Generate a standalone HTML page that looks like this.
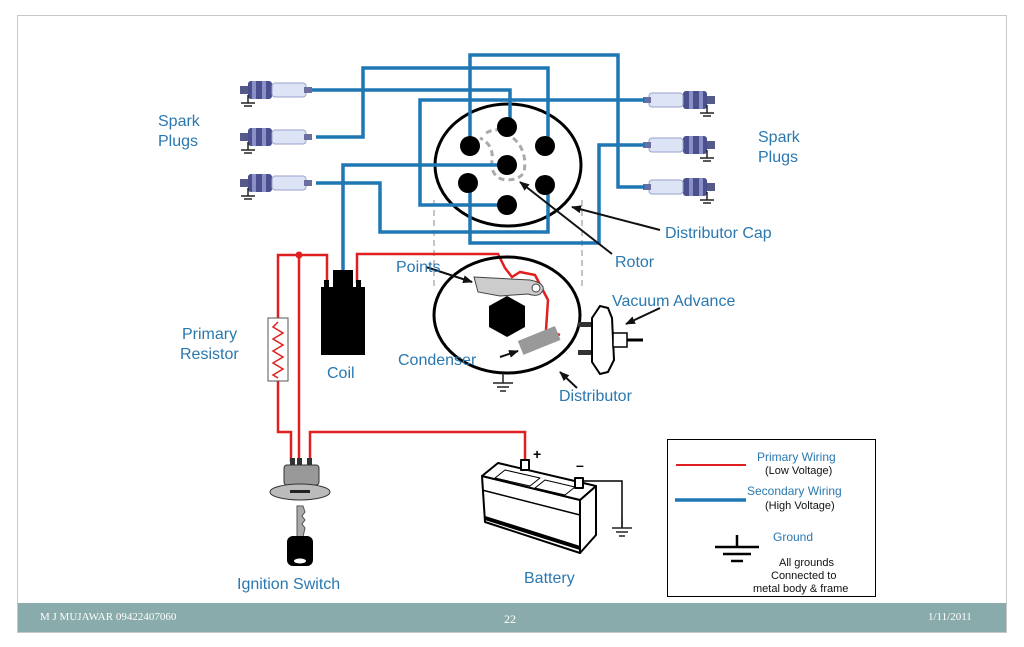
<!DOCTYPE html>
<html><head><meta charset="utf-8"><style>
html,body{margin:0;padding:0;background:#fff;}
svg{display:block;}
text{font-family:"Liberation Sans",sans-serif;}
</style></head><body>
<svg width="1024" height="647" viewBox="0 0 1024 647" xmlns="http://www.w3.org/2000/svg">
<defs>
<g id="plug">
 <rect x="0" y="-4" width="10" height="8" fill="#555a88"/>
 <rect x="8" y="-9" width="24" height="18" rx="3" fill="#4a4f8e"/>
 <rect x="12" y="-9" width="4" height="18" fill="#8a8fc8"/>
 <rect x="22" y="-9" width="4" height="18" fill="#8a8fc8"/>
 <rect x="32" y="-7" width="34" height="14" rx="3" fill="#dde4f5" stroke="#9aa2cc" stroke-width="1"/>
 <rect x="64" y="-3" width="8" height="6" fill="#6a6fa0"/>
 <line x1="8" y1="5" x2="8" y2="13" stroke="#222" stroke-width="1.5"/>
 <line x1="1" y1="13" x2="15" y2="13" stroke="#222" stroke-width="1.5"/>
 <line x1="4" y1="16" x2="12" y2="16" stroke="#222" stroke-width="1.5"/>
</g>
<g id="gnd">
 <line x1="0" y1="0" x2="0" y2="10" stroke="#222" stroke-width="1.5"/>
 <line x1="-10" y1="10" x2="10" y2="10" stroke="#222" stroke-width="1.5"/>
 <line x1="-6" y1="14" x2="6" y2="14" stroke="#222" stroke-width="1.5"/>
 <line x1="-3" y1="18" x2="3" y2="18" stroke="#222" stroke-width="1.5"/>
</g>
<marker id="ar" markerWidth="10" markerHeight="8" refX="9" refY="4" orient="auto" markerUnits="userSpaceOnUse"><path d="M0,0 L10,4 L0,8 Z" fill="#111"/></marker>
</defs>

<rect x="17.5" y="15.5" width="989" height="617" fill="#fff" stroke="#c8c8c8"/>
<rect x="18" y="603" width="988" height="29" fill="#8aabab"/>
<text x="40" y="620" font-size="11" fill="#fff" style="font-family:'Liberation Serif',serif">M J MUJAWAR 09422407060</text>
<text x="504" y="623" font-size="12" fill="#fff" style="font-family:'Liberation Serif',serif">22</text>
<text x="928" y="620" font-size="11" fill="#fff" style="font-family:'Liberation Serif',serif">1/11/2011</text>

<use href="#plug" x="240" y="90"/>
<use href="#plug" x="240" y="137"/>
<use href="#plug" x="240" y="183"/>
<use href="#plug" x="-715" y="100" transform="scale(-1,1)"/>
<use href="#plug" x="-715" y="145" transform="scale(-1,1)"/>
<use href="#plug" x="-715" y="187" transform="scale(-1,1)"/>

<line x1="434" y1="200" x2="434" y2="290" stroke="#888" stroke-dasharray="6,4"/>
<line x1="582" y1="200" x2="582" y2="290" stroke="#888" stroke-dasharray="6,4"/>

<ellipse cx="508" cy="165" rx="73" ry="61" fill="#fff" stroke="#000" stroke-width="3"/>
<path d="M486,133 Q500,125 512,137 Q528,150 524,172 Q520,180 506,180 Q490,178 492,160 Q494,145 480,138" fill="none" stroke="#aaa" stroke-width="3" stroke-dasharray="6,4"/>

<g fill="none" stroke="#1f77b4" stroke-width="3.5">
<polyline points="312,90 510,90 510,125"/>
<polyline points="316,137 363,137 363,68 548,68 548,146"/>
<polyline points="316,183 380,183 380,232 548,232 548,185"/>
<polyline points="507,165 343,165 343,272"/>
<polyline points="645,100 420,100 420,205 507,205"/>
<polyline points="470,146 470,55 618,55 618,187 645,187"/>
<polyline points="645,145 599,145 599,243 470,243 470,183"/>
</g>
<g fill="#000">
<circle cx="507" cy="127" r="10"/><circle cx="470" cy="146" r="10"/><circle cx="545" cy="146" r="10"/>
<circle cx="507" cy="165" r="10"/><circle cx="468" cy="183" r="10"/><circle cx="545" cy="185" r="10"/>
<circle cx="507" cy="205" r="10"/>
</g>
<line x1="660" y1="230" x2="572" y2="207" stroke="#111" stroke-width="2" marker-end="url(#ar)"/>
<line x1="612" y1="254" x2="520" y2="182" stroke="#111" stroke-width="2" marker-end="url(#ar)"/>

<g fill="none" stroke="#e02020" stroke-width="2.5">
<polyline points="327,283 327,255 278,255 278,318"/>
<polyline points="278,381 278,432 291,432 291,462"/>
<line x1="299" y1="255" x2="299" y2="462"/>
<polyline points="310,462 310,432 525,432 525,462"/>
<polyline points="357,283 357,254 498,254 505,268 512,277 520,272 535,275 548,300 546,330 560,335"/>
</g>
<circle cx="299" cy="255" r="3.5" fill="#e02020"/>
<rect x="268" y="318" width="20" height="63" fill="#fff" stroke="#555"/>
<polyline points="278,322 273,327 283,333 273,339 283,345 273,351 283,357 273,363 283,369 273,375 278,378" fill="none" stroke="#e02020" stroke-width="1.5"/>

<rect x="333" y="270" width="20" height="20" fill="#000"/>
<rect x="321" y="287" width="44" height="68" fill="#000"/>
<rect x="324" y="280" width="5" height="8" fill="#000"/><rect x="356" y="280" width="5" height="8" fill="#000"/>

<ellipse cx="507" cy="315" rx="73" ry="58" fill="none" stroke="#000" stroke-width="3"/>
<polygon points="507,296 525,306 525,327 507,337 489,327 489,306" fill="#000"/>
<path d="M474,277 L530,280 Q545,283 543,290 Q540,298 528,294 L500,296 L478,292 Z" fill="#ccc" stroke="#444"/>
<circle cx="536" cy="288" r="4" fill="#fff" stroke="#444"/>
<rect x="519" y="333" width="40" height="15" fill="#999" transform="rotate(-22 539 340)"/>
<use href="#gnd" x="503" y="373"/>
<rect x="578" y="322" width="14" height="5" fill="#333"/>
<rect x="578" y="350" width="14" height="5" fill="#333"/>
<path d="M592,318 L600,306 L608,308 L612,318 L614,360 L608,372 L600,374 L592,362 Z" fill="#fff" stroke="#000" stroke-width="2"/>
<rect x="613" y="333" width="14" height="14" fill="#fff" stroke="#000" stroke-width="1.5"/>
<line x1="627" y1="340" x2="643" y2="340" stroke="#000" stroke-width="3"/>
<line x1="426" y1="267" x2="472" y2="282" stroke="#111" stroke-width="2" marker-end="url(#ar)"/>
<line x1="500" y1="357" x2="518" y2="351" stroke="#111" stroke-width="2" marker-end="url(#ar)"/>
<line x1="577" y1="388" x2="560" y2="372" stroke="#111" stroke-width="2" marker-end="url(#ar)"/>
<line x1="660" y1="308" x2="626" y2="324" stroke="#111" stroke-width="2" marker-end="url(#ar)"/>

<rect x="290" y="458" width="5" height="8" fill="#333"/><rect x="297" y="458" width="5" height="8" fill="#333"/><rect x="307" y="458" width="5" height="8" fill="#333"/>
<rect x="284" y="465" width="35" height="20" rx="3" fill="#999" stroke="#333"/>
<ellipse cx="300" cy="492" rx="30" ry="8" fill="#bbb" stroke="#333"/>
<rect x="290" y="490" width="20" height="3" fill="#222"/>
<path d="M297,506 L303,506 L305,512 L302,516 L305,520 L302,524 L305,528 L303,537 L297,537 Z" fill="#aaa" stroke="#555"/>
<rect x="287" y="536" width="26" height="30" rx="6" fill="#000"/>
<ellipse cx="300" cy="561" rx="6" ry="2.5" fill="#fff"/>

<!-- battery -->
<g fill="#fff" stroke="#000" stroke-width="2" stroke-linejoin="round">
<polygon points="482,476 580,500 580,553 485,522"/>
<polygon points="580,500 596,486 596,535 580,553"/>
<polygon points="482,476 498,463 596,486 580,500"/>
<polygon points="505,470 540,478 530,486 495,478" stroke-width="1"/>
<polygon points="545,480 575,487 565,495 535,488" stroke-width="1"/>
<rect x="521" y="460" width="8" height="10"/>
<rect x="575" y="478" width="8" height="10"/>
</g>
<line x1="482" y1="490" x2="580" y2="515" stroke="#000" stroke-width="1.5"/>
<path d="M485,518 L580,548" stroke="#000" stroke-width="4"/>
<polyline points="583,481 622,481 622,528" fill="none" stroke="#000" stroke-width="1.5"/>
<use href="#gnd" x="622" y="518"/>
<text x="533" y="459" font-size="14" font-weight="bold" fill="#000">+</text>
<text x="576" y="470" font-size="14" font-weight="bold" fill="#000">–</text>

<g fill="#2a78b0" font-size="16">
<text x="158" y="126">Spark</text><text x="158" y="146">Plugs</text>
<text x="758" y="142">Spark</text><text x="758" y="162">Plugs</text>
<text x="665" y="238">Distributor Cap</text>
<text x="615" y="267">Rotor</text>
<text x="396" y="272">Points</text>
<text x="612" y="306">Vacuum Advance</text>
<text x="182" y="339">Primary</text><text x="180" y="359">Resistor</text>
<text x="327" y="378">Coil</text>
<text x="398" y="365">Condenser</text>
<text x="559" y="401">Distributor</text>
<text x="237" y="589">Ignition Switch</text>
<text x="524" y="583">Battery</text>
</g>

<rect x="667.5" y="439.5" width="208" height="157" fill="#fff" stroke="#000"/>
<line x1="676" y1="465" x2="746" y2="465" stroke="#e02020" stroke-width="2"/>
<line x1="675" y1="500" x2="746" y2="500" stroke="#1f77b4" stroke-width="3.5"/>
<text x="757" y="461" font-size="12" fill="#2a78b0">Primary Wiring</text>
<text x="765" y="474" font-size="11" fill="#111">(Low Voltage)</text>
<text x="747" y="495" font-size="12" fill="#2a78b0">Secondary Wiring</text>
<text x="765" y="509" font-size="11" fill="#111">(High Voltage)</text>
<text x="773" y="541" font-size="12" fill="#2a78b0">Ground</text>
<line x1="737" y1="535" x2="737" y2="547" stroke="#000" stroke-width="2.5"/>
<line x1="715" y1="547" x2="759" y2="547" stroke="#000" stroke-width="2.5"/>
<line x1="723" y1="554" x2="751" y2="554" stroke="#000" stroke-width="2.5"/>
<line x1="731" y1="561" x2="743" y2="561" stroke="#000" stroke-width="2.5"/>
<text x="779" y="566" font-size="11" fill="#111">All grounds</text>
<text x="771" y="579" font-size="11" fill="#111">Connected to</text>
<text x="753" y="592" font-size="11" fill="#111">metal body &amp; frame</text>
</svg>
</body></html>
